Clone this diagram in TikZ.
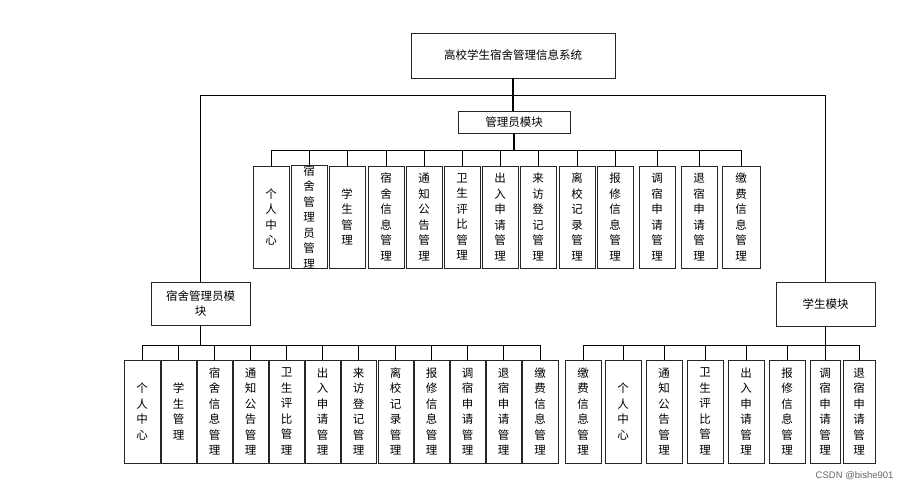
\documentclass[tikz,border=0pt]{standalone}
\usepackage{fontspec}
\newfontfamily\cjk{Noto Sans CJK SC}
\begin{document}
\begin{tikzpicture}[x=1pt,y=-1pt,
  bx/.style={draw=black!85,line width=0.9pt,inner sep=0pt,font=\cjk\fontsize{11.5}{15.5}\selectfont,align=center},
  ln/.style={line width=0.9pt,black}]
\useasboundingbox[fill=white] (0,0) rectangle (909,489);
\newcommand\bx[6]{\node[bx,minimum width=#3-#2,minimum height=#5-#4] (#1) at ({(#2+#3)/2},{(#4+#5)/2}) {#6};}
\bx{top}{411}{615}{33}{78}{高校学生宿舍管理信息系统}
\bx{adm}{458}{570}{111}{133}{管理员模块}
\bx{dorm}{151}{250}{282}{325}{宿舍管理员模\\块}
\bx{stu}{776}{875}{282}{326}{学生模块}
% top row
\bx{a1}{253}{289}{166}{268}{个\\人\\中\\心}
\bx{a2}{291}{327}{166}{268}{宿\\舍\\管\\理\\员\\管\\理}
\bx{a3}{329}{365}{166}{268}{学\\生\\管\\理}
\bx{a4}{368}{404}{166}{268}{宿\\舍\\信\\息\\管\\理}
\bx{a5}{406}{442}{166}{268}{通\\知\\公\\告\\管\\理}
\bx{a6}{444}{480}{166}{268}{卫\\生\\评\\比\\管\\理}
\bx{a7}{482}{518}{166}{268}{出\\入\\申\\请\\管\\理}
\bx{a8}{520}{556}{166}{268}{来\\访\\登\\记\\管\\理}
\bx{a9}{559}{595}{166}{268}{离\\校\\记\\录\\管\\理}
\bx{a10}{597}{633}{166}{268}{报\\修\\信\\息\\管\\理}
\bx{a11}{639}{675}{166}{268}{调\\宿\\申\\请\\管\\理}
\bx{a12}{681}{717}{166}{268}{退\\宿\\申\\请\\管\\理}
\bx{a13}{722}{760}{166}{268}{缴\\费\\信\\息\\管\\理}
% bottom left
\bx{d1}{124}{160}{360}{463}{个\\人\\中\\心}
\bx{d2}{161}{196}{360}{463}{学\\生\\管\\理}
\bx{d3}{197}{232}{360}{463}{宿\\舍\\信\\息\\管\\理}
\bx{d4}{233}{268}{360}{463}{通\\知\\公\\告\\管\\理}
\bx{d5}{269}{304}{360}{463}{卫\\生\\评\\比\\管\\理}
\bx{d6}{305}{340}{360}{463}{出\\入\\申\\请\\管\\理}
\bx{d7}{341}{376}{360}{463}{来\\访\\登\\记\\管\\理}
\bx{d8}{378}{413}{360}{463}{离\\校\\记\\录\\管\\理}
\bx{d9}{414}{449}{360}{463}{报\\修\\信\\息\\管\\理}
\bx{d10}{450}{485}{360}{463}{调\\宿\\申\\请\\管\\理}
\bx{d11}{486}{521}{360}{463}{退\\宿\\申\\请\\管\\理}
\bx{d12}{522}{558}{360}{463}{缴\\费\\信\\息\\管\\理}
% bottom right
\bx{s1}{565}{601}{360}{463}{缴\\费\\信\\息\\管\\理}
\bx{s2}{605}{641}{360}{463}{个\\人\\中\\心}
\bx{s3}{646}{682}{360}{463}{通\\知\\公\\告\\管\\理}
\bx{s4}{687}{723}{360}{463}{卫\\生\\评\\比\\管\\理}
\bx{s5}{728}{764}{360}{463}{出\\入\\申\\请\\管\\理}
\bx{s6}{769}{805}{360}{463}{报\\修\\信\\息\\管\\理}
\bx{s7}{810}{840}{360}{463}{调\\宿\\申\\请\\管\\理}
\bx{s8}{843}{875}{360}{463}{退\\宿\\申\\请\\管\\理}
% connectors
\draw[ln,line width=1.4pt] (top.south) -- (top.south |- adm.north);
\draw[ln] (top.south) ++(0,17) coordinate (bus);
\draw[ln] (dorm.north) |- (bus) -| (stu.north);
\foreach \i in {1,...,13} \draw[ln] (adm.south) ++(0,17) -| (a\i.north);
\draw[ln,line width=1.4pt] (adm.south) -- ++(0,17);
\foreach \i in {1,...,12} \draw[ln] (dorm.south) ++(0,20) -| (d\i.north);
\draw[ln] (dorm.south) -- ++(0,20);
\foreach \i in {1,...,8} \draw[ln] (stu.south) ++(0,19) -| (s\i.north);
\draw[ln] (stu.south) -- ++(0,19);
\node[font=\fontspec{Liberation Sans}\fontsize{9.5}{10}\selectfont,text=black!60,anchor=east] (wm) at (897,476) {CSDN @bishe901};
\end{tikzpicture}
\end{document}
